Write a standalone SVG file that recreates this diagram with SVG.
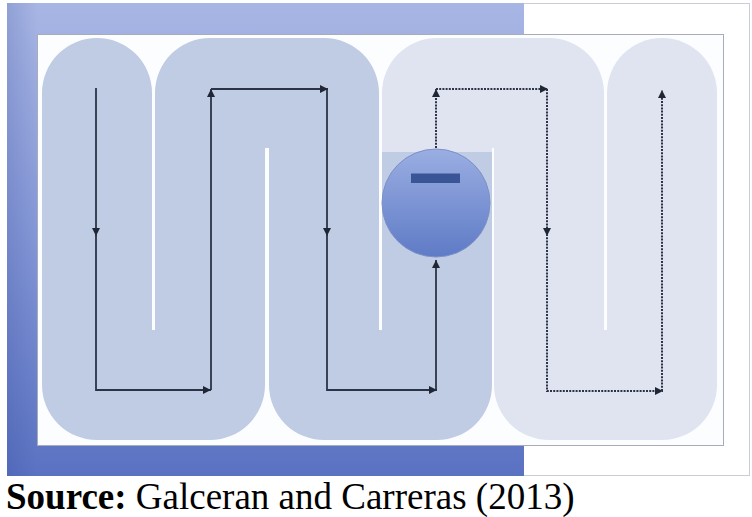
<svg xmlns="http://www.w3.org/2000/svg" width="752" height="517" viewBox="0 0 752 517">
  <defs>
    <linearGradient id="frameGrad" x1="0" y1="0" x2="0" y2="1">
      <stop offset="0" stop-color="#a8b6e4"/>
      <stop offset="0.5" stop-color="#8396d6"/>
      <stop offset="1" stop-color="#5a72c2"/>
    </linearGradient>
    <linearGradient id="frameSide" x1="0" y1="0" x2="1" y2="0">
      <stop offset="0" stop-color="#2a3e90" stop-opacity="0.18"/>
      <stop offset="1" stop-color="#2a3e90" stop-opacity="0"/>
    </linearGradient>
    <linearGradient id="robotGrad" x1="0" y1="0" x2="0" y2="1">
      <stop offset="0" stop-color="#9aaee2"/>
      <stop offset="1" stop-color="#5f7bc6"/>
    </linearGradient>
    <marker id="arr" viewBox="0 0 10 10" refX="10" refY="5" markerWidth="9" markerHeight="8" markerUnits="userSpaceOnUse" orient="auto">
      <path d="M0,0 L10,5 L0,10 Z" fill="#1f2636"/>
    </marker>
    <style>
      .lane { fill: none; stroke-width: 110; stroke-linejoin: round; }
      .done { stroke: #c0cce3; stroke-linecap: round; }
      .todo { stroke: #dfe4f0; stroke-linecap: butt; }
      .path { fill: none; stroke: #2b3346; stroke-width: 1.8; marker-end: url(#arr); }
      .dot { stroke-dasharray: 2 1.2; stroke-width: 2; }
      .cap { font-family: "Liberation Serif", "Times New Roman", serif; font-size: 37px; fill: #000; }
    </style>
  </defs>

  <rect x="0" y="0" width="752" height="517" fill="#ffffff"/>

  <g id="frame">
    <rect x="7.5" y="3.5" width="742" height="472" fill="#ffffff" stroke="#c9cdd8" stroke-width="1"/>
    <rect x="7" y="3" width="517" height="473" fill="url(#frameGrad)"/>
    <rect x="7" y="3" width="30" height="473" fill="url(#frameSide)"/>
    <rect x="37.5" y="34.5" width="686" height="411" fill="#fcfdff" stroke="#a8acb8" stroke-width="1"/>
  </g>

  <g id="coverage">
    <path class="lane done" d="M97,93 V385 H210 V93 H324 V385 H437 V152"/>
    <path class="lane todo" d="M437,152 V93 H549 V385 H662 V93"/>
    <circle cx="662" cy="93" r="55" fill="#dfe4f0"/>
  </g>

  <g id="connectors">
    <path class="path" d="M96,88 V236"/>
    <path class="path" d="M96,234 V390 H211"/>
    <path class="path" d="M211,390 V89"/>
    <path class="path" d="M211,89 H328"/>
    <path class="path" d="M327,89 V236"/>
    <path class="path" d="M327,234 V390 H437"/>
    <path class="path" d="M436,390 V260"/>
    <path class="path dot" d="M436,148 V89"/>
    <path class="path dot" d="M436,89 H548"/>
    <path class="path dot" d="M547,89 V236"/>
    <path class="path dot" d="M547,234 V391 H663"/>
    <path class="path dot" d="M662,391 V90"/>
  </g>

  <g id="robot">
    <circle cx="436" cy="203" r="54" fill="url(#robotGrad)" stroke="#7e90c8" stroke-width="1"/>
    <rect x="411" y="173.5" width="49" height="9.5" fill="#3a5595"/>
  </g>

  <g id="caption">
    <text class="cap" x="6" y="509"><tspan font-weight="bold">Source:</tspan> Galceran and Carreras (2013)</text>
  </g>
</svg>
